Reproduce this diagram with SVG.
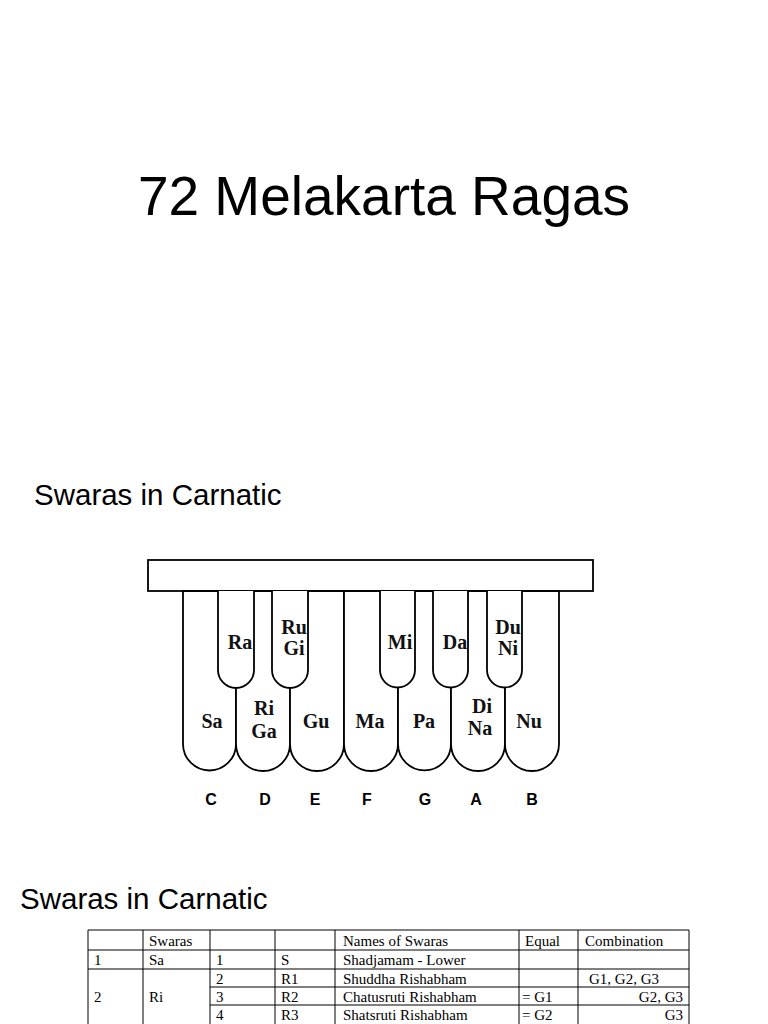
<svg xmlns="http://www.w3.org/2000/svg" width="768" height="1024" viewBox="0 0 768 1024">
<style>
.k{fill:#fff;stroke:#000;stroke-width:1.8}
.s{font-family:"Liberation Serif",serif;font-size:20px;font-weight:bold;text-anchor:middle;fill:#111}
.n{font-family:"Liberation Sans",sans-serif;font-size:16px;font-weight:bold;text-anchor:middle}
.t{font-family:"Liberation Serif",serif;font-size:15px}
.g{stroke:#000;stroke-width:1;fill:none}
</style>
<rect width="768" height="1024" fill="#fff"/>
<text x="384" y="215" font-family="Liberation Sans,sans-serif" font-size="55" text-anchor="middle">72 Melakarta Ragas</text>
<text x="34" y="505" font-family="Liberation Sans,sans-serif" font-size="29.5">Swaras in Carnatic</text>
<text x="20" y="909" font-family="Liberation Sans,sans-serif" font-size="29.5">Swaras in Carnatic</text>
<g id="keyboard">
<rect class="k" x="148" y="560" width="445" height="31"/>
<path class="k" d="M183,591V744A26.5,26.5 0 0 0 236,744V591Z"/>
<path class="k" d="M236,591V744A27,27 0 0 0 290,744V591Z"/>
<path class="k" d="M290,591V744A27,27 0 0 0 344,744V591Z"/>
<path class="k" d="M344,591V744A27,27 0 0 0 398,744V591Z"/>
<path class="k" d="M398,591V744A26.5,26.5 0 0 0 451,744V591Z"/>
<path class="k" d="M451,591V744A27,27 0 0 0 505,744V591Z"/>
<path class="k" d="M505,591V744A27,27 0 0 0 559,744V591Z"/>
<path class="k" d="M218,591V670A18,18 0 0 0 254,670V591"/>
<path class="k" d="M272,591V670A18,18 0 0 0 308,670V591"/>
<path class="k" d="M380,591V670A17.5,17.5 0 0 0 415,670V591"/>
<path class="k" d="M433,591V670A17.5,17.5 0 0 0 468,670V591"/>
<path class="k" d="M487,591V670A17.5,17.5 0 0 0 522,670V591"/>
<text class="s" x="240" y="649">Ra</text>
<text class="s" x="294" y="634">Ru</text><text class="s" x="294" y="655">Gi</text>
<text class="s" x="400" y="649">Mi</text>
<text class="s" x="455" y="649">Da</text>
<text class="s" x="508" y="634">Du</text><text class="s" x="508" y="655">Ni</text>
<text class="s" x="212" y="728">Sa</text>
<text class="s" x="264" y="715">Ri</text><text class="s" x="264" y="738">Ga</text>
<text class="s" x="316" y="728">Gu</text>
<text class="s" x="370" y="728">Ma</text>
<text class="s" x="424" y="728">Pa</text>
<text class="s" x="482" y="713">Di</text><text class="s" x="480" y="735">Na</text>
<text class="s" x="529" y="728">Nu</text>
</g>
<g id="letters">
<text class="n" x="211" y="805">C</text>
<text class="n" x="265" y="805">D</text>
<text class="n" x="315" y="805">E</text>
<text class="n" x="367" y="805">F</text>
<text class="n" x="425" y="805">G</text>
<text class="n" x="476" y="805">A</text>
<text class="n" x="532" y="805">B</text>
</g>
<g id="table">
<path class="g" d="M88,930H689M88,950H689M88,969H689M210,987H689M210,1005H689M88,930V1024M143,930V1024M210,930V1024M275,930V1024M335,930V1024M519,930V1024M578,930V1024M689,930V1024"/>
<text class="t" x="149" y="946">Swaras</text>
<text class="t" x="343" y="946">Names of Swaras</text>
<text class="t" x="525" y="946">Equal</text>
<text class="t" x="585" y="946">Combination</text>
<text class="t" x="94" y="965">1</text><text class="t" x="149" y="965">Sa</text><text class="t" x="216" y="965">1</text><text class="t" x="281" y="965">S</text><text class="t" x="343" y="965">Shadjamam - Lower</text>
<text class="t" x="94" y="1002">2</text><text class="t" x="149" y="1002">Ri</text>
<text class="t" x="216" y="984">2</text><text class="t" x="281" y="984">R1</text><text class="t" x="343" y="984">Shuddha Rishabham</text><text class="t" x="589" y="984">G1, G2, G3</text>
<text class="t" x="216" y="1002">3</text><text class="t" x="281" y="1002">R2</text><text class="t" x="343" y="1002">Chatusruti Rishabham</text><text class="t" x="522" y="1002">= G1</text><text class="t" x="683" y="1002" text-anchor="end">G2, G3</text>
<text class="t" x="216" y="1020">4</text><text class="t" x="281" y="1020">R3</text><text class="t" x="343" y="1020">Shatsruti Rishabham</text><text class="t" x="522" y="1020">= G2</text><text class="t" x="683" y="1020" text-anchor="end">G3</text>
</g>
</svg>
